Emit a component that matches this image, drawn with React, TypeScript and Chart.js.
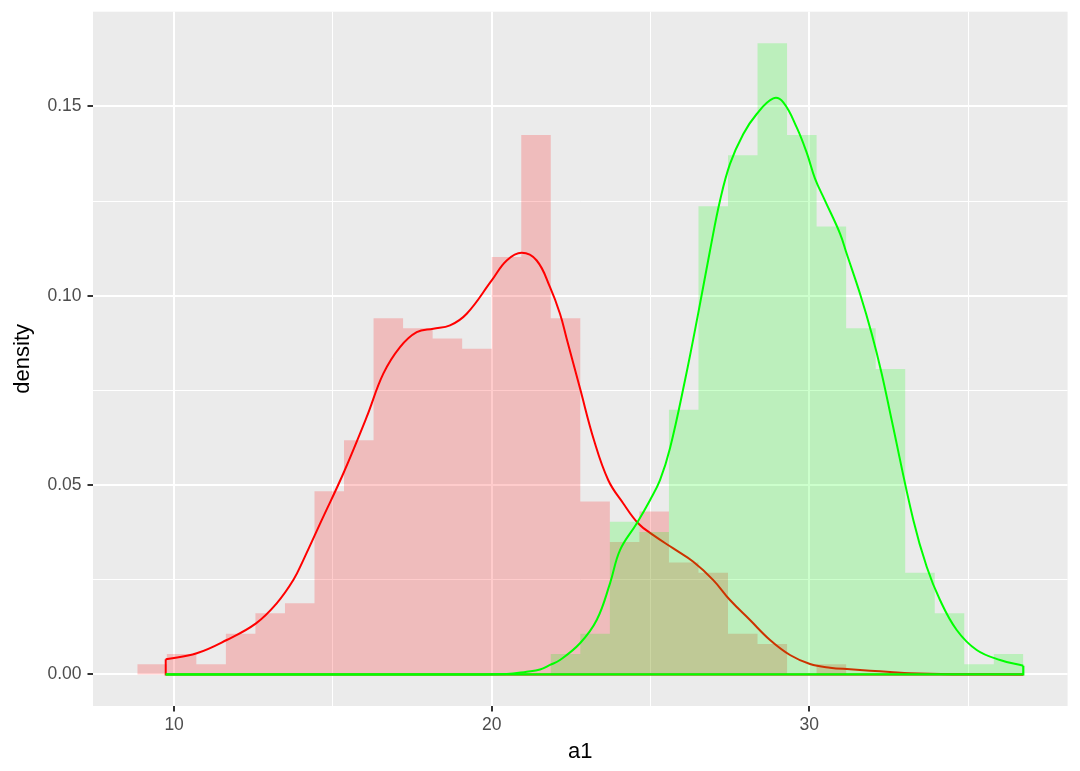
import React, { useEffect, useRef } from 'react';
import { Chart, registerables } from 'chart.js';

Chart.register(...registerables);

// Histogram bins (30 bins) and counts per group (n = 400 each)
const binEdges = [8.84, 9.77, 10.70, 11.63, 12.56, 13.49, 14.42, 15.35, 16.28, 17.21, 18.14, 19.07, 20.00, 20.93, 21.86, 22.79, 23.72, 24.65, 25.58, 26.51, 27.44, 28.37, 29.30, 30.23, 31.16, 32.09, 33.02, 33.95, 34.88, 35.81, 36.74];
const redCounts = [1, 2, 1, 4, 6, 7, 18, 23, 35, 34, 33, 32, 41, 53, 35, 17, 13, 16, 11, 10, 4, 3, 0, 1, 0, 0, 0, 0, 0, 0];
const greenCounts = [0, 0, 0, 0, 0, 0, 0, 0, 0, 0, 0, 0, 0, 0, 2, 4, 15, 14, 26, 46, 51, 62, 53, 44, 34, 30, 10, 6, 1, 2];
const sampleSize = 400;

// Density curves
const densityStart = 9.736;
const densityEnd = 36.738;
const redCurveX = [9.736, 10.712, 11.656, 12.579, 13.230, 13.753, 14.068, 14.647, 15.327, 16.064, 16.587, 17.113, 17.639, 18.161, 18.687, 19.213, 20.000, 20.472, 20.945, 21.417, 21.836, 22.150, 22.361, 22.780, 23.221, 23.671, 24.144, 24.616, 25.088, 25.718, 26.348, 26.977, 27.503, 28.133, 28.763, 29.392, 30.022, 30.652, 31.282, 31.911, 32.541, 33.171, 34.5, 36.738];
const redCurveY = [0.00401, 0.00559, 0.00910, 0.01350, 0.01878, 0.02492, 0.03020, 0.04074, 0.05306, 0.06799, 0.07943, 0.08645, 0.09040, 0.09130, 0.09217, 0.09525, 0.10404, 0.10931, 0.11134, 0.10931, 0.10227, 0.09525, 0.08866, 0.07555, 0.06184, 0.05129, 0.04515, 0.03987, 0.03679, 0.03328, 0.02975, 0.02492, 0.01965, 0.01437, 0.00910, 0.00514, 0.00277, 0.00179, 0.00137, 0.00100, 0.00066, 0.00032, 0.00008, 0.00000];
const greenCurveX = [9.736, 15.0, 19.0, 20.472, 21.102, 21.521, 21.836, 22.150, 22.780, 23.306, 23.725, 24.040, 24.565, 24.984, 25.299, 25.614, 26.086, 26.496, 26.874, 27.189, 27.503, 27.922, 28.344, 28.866, 29.181, 29.603, 29.918, 30.180, 30.494, 30.967, 31.178, 31.597, 31.965, 32.280, 32.595, 33.275, 33.696, 34.115, 34.641, 35.270, 36.005, 36.738];
const greenCurveY = [0, 0, 0.00002, 0.0001, 0.00074, 0.00132, 0.00251, 0.00382, 0.00823, 0.01437, 0.02405, 0.03283, 0.03987, 0.04602, 0.05129, 0.05973, 0.07767, 0.09507, 0.11195, 0.12513, 0.13481, 0.14272, 0.14800, 0.15211, 0.15106, 0.14446, 0.13779, 0.13093, 0.12513, 0.11643, 0.11108, 0.10053, 0.08998, 0.07943, 0.06712, 0.04076, 0.02843, 0.01965, 0.01174, 0.00646, 0.00382, 0.00232];

// Axes
const xMajorTicks = [10, 20, 30];
const xMinorTicks = [15, 25, 35];
const yMajorTicks = [0, 0.05, 0.1, 0.15];
const yMinorTicks = [0.025, 0.075, 0.125];
const xLimits = [7.446, 38.133];
const yLimits = [-0.00833, 0.17501];
const xTitle = 'a1';
const yTitle = 'density';

const FONT = '"Liberation Sans", Arial, Helvetica, sans-serif';

function histPoints(counts: number[]) {
  const pts = counts.map((c, i) => ({
    x: binEdges[i],
    y: c / (sampleSize * (binEdges[i + 1] - binEdges[i])),
  }));
  pts.push({ x: binEdges[binEdges.length - 1], y: 0 });
  return pts;
}

function curvePoints(xs: number[], ys: number[]) {
  return xs.map((x, i) => ({ x, y: ys[i] }));
}

const isIn = (v: number, arr: number[]) => arr.some((a) => Math.abs(a - v) < 1e-9);

const panelBg = {
  id: 'panelBg',
  beforeDraw(chart: any) {
    const { ctx, chartArea } = chart;
    ctx.save();
    ctx.fillStyle = '#EBEBEB';
    ctx.fillRect(chartArea.left, chartArea.top, chartArea.right - chartArea.left, chartArea.bottom - chartArea.top);
    ctx.restore();
  },
};

export default function App() {
  const ref = useRef<HTMLCanvasElement | null>(null);

  useEffect(() => {
    if (!ref.current) return;
    const chart = new Chart(ref.current, {
      type: 'line',
      data: {
        datasets: [
          {
            label: 'green density',
            data: curvePoints(greenCurveX, greenCurveY),
            borderColor: '#00FF00',
            borderWidth: 2,
            pointRadius: 0,
            fill: false,
            tension: 0.4,
            order: 0,
          },
          {
            label: 'green outline',
            data: [
              { x: densityStart, y: 0 },
              { x: densityEnd, y: 0 },
              { x: densityEnd, y: greenCurveY[greenCurveY.length - 1] },
            ],
            borderColor: '#00FF00',
            borderWidth: 2.2,
            pointRadius: 0,
            fill: false,
            tension: 0,
            order: 1,
          },
          {
            label: 'green hist',
            data: histPoints(greenCounts),
            borderColor: 'rgba(0,0,0,0)',
            borderWidth: 0,
            backgroundColor: 'rgba(0,255,0,0.2)',
            pointRadius: 0,
            stepped: 'before',
            fill: 'origin',
            order: 2,
          },
          {
            label: 'red density',
            data: curvePoints(redCurveX, redCurveY),
            borderColor: '#FF0000',
            borderWidth: 2,
            pointRadius: 0,
            fill: false,
            tension: 0.4,
            order: 3,
          },
          {
            label: 'red outline',
            data: [
              { x: densityStart, y: redCurveY[0] },
              { x: densityStart, y: 0 },
              { x: densityEnd, y: 0 },
            ],
            borderColor: '#FF0000',
            borderWidth: 2,
            pointRadius: 0,
            fill: false,
            tension: 0,
            order: 4,
          },
          {
            label: 'red hist',
            data: histPoints(redCounts),
            borderColor: 'rgba(0,0,0,0)',
            borderWidth: 0,
            backgroundColor: 'rgba(255,0,0,0.2)',
            pointRadius: 0,
            stepped: 'before',
            fill: 'origin',
            order: 5,
          },
        ] as any,
      },
      options: {
        animation: false,
        responsive: false,
        devicePixelRatio: 1,
        layout: { padding: { top: 11.7, right: 12.4, left: 0, bottom: 0 } },
        plugins: {
          legend: { display: false },
          tooltip: { enabled: false },
        },
        scales: {
          x: {
            type: 'linear',
            min: xLimits[0],
            max: xLimits[1],
            afterBuildTicks: (scale: any) => {
              scale.ticks = [...xMajorTicks, ...xMinorTicks].sort((a, b) => a - b).map((v) => ({ value: v }));
            },
            afterFit: (scale: any) => {
              scale.height = 65;
              scale.paddingLeft = 0;
              scale.paddingRight = 0;
            },
            ticks: {
              autoSkip: false,
              maxRotation: 0,
              padding: 3,
              color: '#4D4D4D',
              font: { family: FONT, size: 17.5 },
              callback: (v: any) => (isIn(Number(v), xMajorTicks) ? String(v) : ''),
            },
            grid: {
              color: '#FFFFFF',
              lineWidth: (ctx: any) => (ctx.tick && isIn(ctx.tick.value, xMajorTicks) ? 2 : 1),
              tickColor: (ctx: any) => (ctx.tick && isIn(ctx.tick.value, xMajorTicks) ? '#333333' : 'rgba(0,0,0,0)'),
              tickLength: 5.5,
              tickWidth: 2,
              drawTicks: true,
            },
            border: { display: false },
            title: {
              display: true,
              text: xTitle,
              color: '#000000',
              font: { family: FONT, size: 22 },
              padding: { top: 0, bottom: 6 },
            },
          },
          y: {
            type: 'linear',
            min: yLimits[0],
            max: yLimits[1],
            afterBuildTicks: (scale: any) => {
              scale.ticks = [...yMajorTicks, ...yMinorTicks].sort((a, b) => a - b).map((v) => ({ value: v }));
            },
            afterFit: (scale: any) => {
              scale.width = 93;
              scale.paddingTop = 0;
              scale.paddingBottom = 0;
            },
            ticks: {
              autoSkip: false,
              padding: 6,
              color: '#4D4D4D',
              font: { family: FONT, size: 17.5 },
              callback: (v: any) => (isIn(Number(v), yMajorTicks) ? Number(v).toFixed(2) : ''),
            },
            grid: {
              color: '#FFFFFF',
              lineWidth: (ctx: any) => (ctx.tick && isIn(ctx.tick.value, yMajorTicks) ? 2 : 1),
              tickColor: (ctx: any) => (ctx.tick && isIn(ctx.tick.value, yMajorTicks) ? '#333333' : 'rgba(0,0,0,0)'),
              tickLength: 5.5,
              tickWidth: 2,
              drawTicks: true,
            },
            border: { display: false },
            title: {
              display: true,
              text: yTitle,
              color: '#000000',
              font: { family: FONT, size: 22 },
              padding: { top: 10, bottom: 0 },
            },
          },
        },
      } as any,
      plugins: [panelBg],
    });
    return () => chart.destroy();
  }, []);

  return (
    <div style={{ position: 'absolute', left: 0, top: 0, width: 1080, height: 771, background: '#FFFFFF' }}>
      <canvas ref={ref} width={1080} height={771} style={{ width: 1080, height: 771, display: 'block' }} />
    </div>
  );
}
